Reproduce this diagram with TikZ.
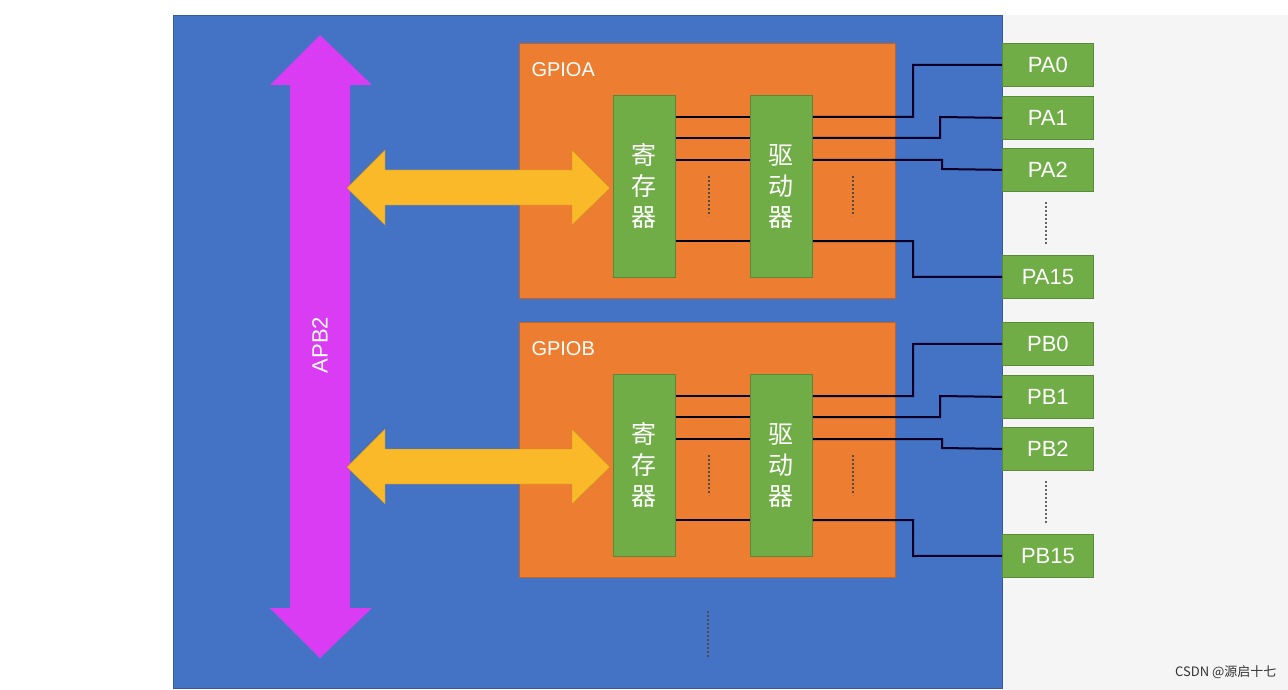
\documentclass[tikz,border=0pt]{standalone}
\usepackage{fontspec}
\setmainfont{Liberation Sans}
\newfontfamily\cjk{Noto Sans CJK SC}
\begin{document}
\begin{tikzpicture}[x=1pt,y=-1pt,
  blk/.style={draw=#1!80!black,fill=#1,line width=0.8pt,anchor=north west,inner sep=0},
  gr/.style={blk=grn,text=white},
  wire/.style={line width=2pt,draw=black!85!blue},
  dots/.style={dotted,line width=2pt,draw=#1}]
\definecolor{bl}{HTML}{4472C4}
\definecolor{org}{HTML}{ED7D31}
\definecolor{grn}{HTML}{70AD47}
\definecolor{mag}{HTML}{D93CF2}
\definecolor{yel}{HTML}{F9B928}
\useasboundingbox (0,0) rectangle (1288,690);
\fill[white] (0,0) rectangle (1288,690);
\fill[black!4] (1002,15) rectangle (1288,690);
\node[blk=bl,minimum width=829,minimum height=673] (mcu) at (173,15) {};
% APB2 bus
\fill[mag] (320,35) -- (372,85) -- (350,85) -- (350,608) -- (372,608) -- (320,658) -- (270,608) -- (290,608) -- (290,85) -- (270,85) -- cycle;
\node[rotate=90,text=white,font=\fontsize{22}{24}\selectfont] (apb) at (320,345) {APB2};
\foreach \s/\p in {0/A,279/B}{
\begin{scope}[yshift=-\s]
\node[blk=org,minimum width=376,minimum height=255] (g\p) at (519,43) {};
\node[text=white,font=\fontsize{20}{22}\selectfont,anchor=west] at (528,70) {GPIO\p};
\fill[yel,draw=yel!80!black] (347,188) -- (385,150) -- (385,170) -- (572,170) -- (572,150) -- (610,188) -- (572,225) -- (572,205) -- (385,205) -- (385,225) -- cycle;
\node[gr,minimum width=62,minimum height=182,font=\cjk\fontsize{25}{31}\selectfont,align=center] (r\p) at (613,95) {寄\\存\\器};
\node[gr,minimum width=62,minimum height=182,font=\cjk\fontsize{25}{31}\selectfont,align=center] (d\p) at (750,95) {驱\\动\\器};
\foreach \n/\t/\yy in {0/\p0/43,1/\p1/96,2/\p2/148,15/\p15/255}
  \node[gr,minimum width=91,minimum height=43,font=\fontsize{22}{24}\selectfont] (p\p\n) at (1002,\yy) {P\t};
\foreach \yy in {117,138,160,241}{
  \draw[wire] (r\p.east |- 0,\yy) -- (d\p.west |- 0,\yy);}
\draw[wire] (d\p.east |- 0,117) -| (913,65) -- (p\p0.west);
\draw[wire] (d\p.east |- 0,138) -| (940,117) -- (p\p1.west);
\draw[wire] (d\p.east |- 0,160) -| (942,169) -- (p\p2.west);
\draw[wire] (d\p.east |- 0,241) -| (913,277) -- (p\p15.west);
\draw[dots=black!70] (709,176) -- (709,216);
\draw[dots=black!70] (853,176) -- (853,216);
\draw[dots=black!60] (1046,202) -- (1046,245);
\end{scope}}
\draw[dots=black!70] (708,611) -- (708,658);
\node[text=black!80,font=\cjk\fontsize{13}{15}\selectfont,anchor=east] (wm) at (1280,672) {CSDN @源启十七};
\end{tikzpicture}
\end{document}
